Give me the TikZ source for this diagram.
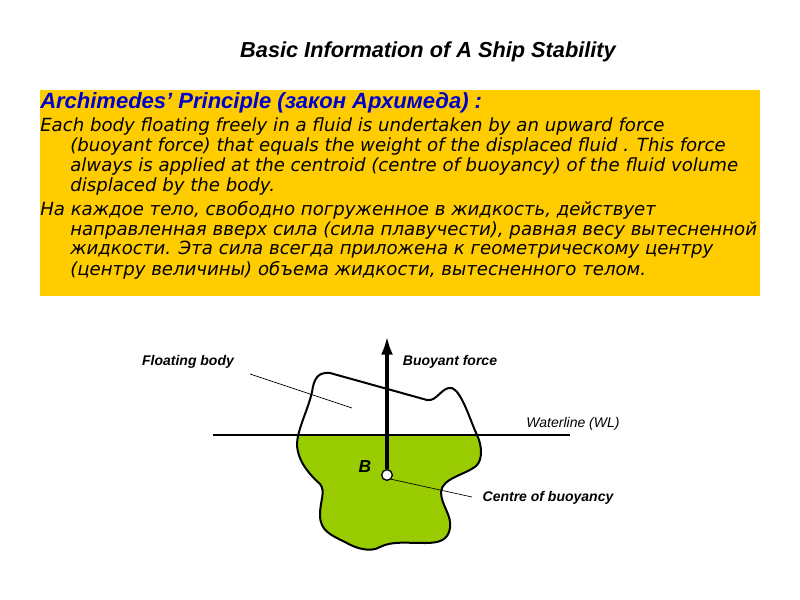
\documentclass[tikz,border=0pt]{standalone}
\usepackage{fontspec}
\usetikzlibrary{arrows.meta}
\setmainfont{Liberation Sans}
\newfontfamily\bodyfont{DejaVu Sans}
\begin{document}
\begin{tikzpicture}[x=0.75pt,y=-0.75pt,
  ln/.style={anchor=west,inner sep=0,font=\bodyfont\itshape\fontsize{13.6}{15}\selectfont},
  lbl/.style={inner sep=0,font=\bfseries\itshape\fontsize{10.5}{12}\selectfont},
  body/.style={line width=1.5pt,line join=round}]
\path[use as bounding box,fill=white] (0,0) rectangle (800,600);
\definecolor{boxyellow}{HTML}{FFCC00}
\definecolor{water}{HTML}{99CC00}
\definecolor{headblue}{HTML}{0000CC}
\node[font=\bfseries\itshape\fontsize{16.3}{18}\selectfont] (title) at (428,52) {Basic Information of A Ship Stability};
\fill[boxyellow] (40,90) rectangle (760,296);
\node[anchor=west,inner sep=0,text=headblue,font=\bfseries\itshape\fontsize{16.5}{18}\selectfont] (h) at (40,103) {Archimedes’ Principle (закон Архимеда) :};
\node[ln] (l1) at (40,126) {Each body floating freely in a fluid is undertaken by an upward force};
\node[ln] (l2) at (70,146) {(buoyant force) that equals the weight of the displaced fluid . This force};
\node[ln] (l3) at (70,166) {always is applied at the centroid (centre of buoyancy) of the fluid volume};
\node[ln] (l4) at (70,186) {displaced by the body.};
\node[ln] (r1) at (40,210) {На каждое тело, свободно погруженное в жидкость, действует};
\node[ln] (r2) at (70,230) {направленная вверх сила (сила плавучести), равная весу вытесненной};
\node[ln] (r3) at (70,250) {жидкости. Эта сила всегда приложена к геометрическому центру};
\node[ln] (r4) at (70,270) {(центру величины) объема жидкости, вытесненного телом.};
\def\hull{(312,392) .. controls (314,378) and (318,372) .. (330,373)
 -- (427,400) .. controls (437,402) and (442,386) .. (452,388)
 .. controls (462,392) and (470,420) .. (477,435)
 .. controls (482,445) and (483,460) .. (476,466)
 .. controls (465,475) and (442,478) .. (441,492)
 .. controls (441,505) and (452,515) .. (450,528)
 .. controls (448,540) and (440,543) .. (425,543)
 .. controls (405,543) and (392,541) .. (380,547)
 .. controls (370,553) and (355,548) .. (345,542)
 .. controls (330,535) and (320,530) .. (320,515)
 .. controls (320,500) and (326,492) .. (320,484)
 .. controls (310,475) and (298,462) .. (297,445)
 .. controls (297,430) and (308,410) .. (312,392) -- cycle}
\begin{scope}
\clip (0,435) rectangle (800,600);
\fill[water] \hull;
\end{scope}
\draw[body] \hull;
\coordinate (wl1) at (213,435); \coordinate (wl2) at (570,435);
\draw[line width=1pt] (wl1) -- (wl2);
\node[circle,draw,fill=white,line width=1pt,minimum size=8pt,inner sep=0] (B) at (387,475) {};
\coordinate (top) at (387,336);
\draw[line width=3pt,-{Latex[length=14pt,width=9pt]}] (B.north) -- (top);
\node[lbl,font=\bfseries\itshape\fontsize{13}{14}\selectfont] (Bl) at (365,467) {B};
\node[lbl] (fb) at (188,362) {Floating body};
\node[lbl] (bf) at (450,362) {Buoyant force};
\node[lbl,font=\itshape\fontsize{10.5}{12}\selectfont] (wl) at (573,424) {Waterline (WL)};
\node[lbl] (cb) at (548,498) {Centre of buoyancy};
\coordinate (fbs) at (250,374);
\coordinate (fbe) at (352,408);
\coordinate (cbe) at (472,497);
\draw[line width=0.5pt] (fbs) -- (fbe);
\draw[line width=0.5pt] (B.south east) -- (cbe);
\end{tikzpicture}
\end{document}
